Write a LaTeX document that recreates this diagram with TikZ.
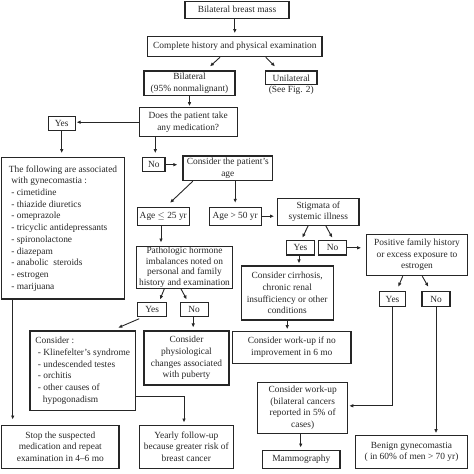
\documentclass[tikz,border=0pt]{standalone}
\usepackage{fontspec}
\setmainfont{Liberation Serif}
\usetikzlibrary{arrows.meta}
\begin{document}
\begin{tikzpicture}[x=1pt,y=-1pt,
  box/.style={draw=black!85, line width=1.1pt, inner sep=0pt, align=center,
    font=\fontsize{9.4}{11.7}\selectfont, text=black!85},
  lbl/.style={inner sep=0pt, align=center, font=\fontsize{9.4}{11.7}\selectfont, text=black!85},
  arr/.style={draw=black!85, line width=0.9pt, -{Latex[length=4pt,width=3.6pt]}},
  ln/.style={draw=black!85, line width=0.9pt}
]
\useasboundingbox (0,0) rectangle (474,474);

% nodes
\node[box, minimum width=104, minimum height=17.3] (top) at (237,9.7) {Bilateral breast mass};
\node[box, minimum width=174.3, minimum height=20] (hist) at (234.8,46.7) {Complete history and physical examination};
\node[box, minimum width=91, minimum height=24.7] (bil) at (189.5,83.3) {Bilateral\\(95\% nonmalignant)};
\node[box, minimum width=51.3, minimum height=13.7] (uni) at (291.3,77.8) {Unilateral};
\node[lbl] (seefig) at (291.3,90.5) {(See Fig. 2)};
\node[box, minimum width=98.3, minimum height=29] (med) at (188.2,122.2) {Does the patient take\\any medication?};
\node[box, minimum width=26.7, minimum height=14] (yes1) at (61.7,123.7) {Yes};
\node[box, minimum width=123.4, minimum height=141.3, align=left] (list) at (63,228.3)
  {The following are associated\\
   \hspace*{2.5pt}with gynecomastia :\\
   \hspace*{2.5pt}- cimetidine\\
   \hspace*{2.5pt}- thiazide diuretics\\
   \hspace*{2.5pt}- omeprazole\\
   \hspace*{2.5pt}- tricyclic antidepressants\\
   \hspace*{2.5pt}- spironolactone\\
   \hspace*{2.5pt}- diazepam\\
   \hspace*{2.5pt}- anabolic\ \ steroids\\
   \hspace*{2.5pt}- estrogen\\
   \hspace*{2.5pt}- marijuana};
\node[box, minimum width=22.3, minimum height=14] (no1) at (153.8,164.7) {No};
\node[box, minimum width=89.7, minimum height=24.7] (age) at (227.8,168.3) {Consider the patient's\\age};
\node[box, minimum width=52, minimum height=17.7] (age25) at (163.3,216.2) {Age $\leq$ 25 yr};
\node[box, minimum width=51.7, minimum height=17.7] (age50) at (235.2,216.2) {Age > 50 yr};
\node[box, minimum width=81.3, minimum height=26.7] (stig) at (318.3,211.7) {Stigmata of\\systemic illness};
\node[box, minimum width=27.6, minimum height=14.3] (yes2) at (300.5,247.8) {Yes};
\node[box, minimum width=28.4, minimum height=14.3] (no2) at (332.5,247.8) {No};
\node[box, minimum width=100.6, minimum height=41.4] (fam) at (417,255) {Positive family history\\or excess exposure to\\estrogen};
\node[box, minimum width=26.4, minimum height=15] (yes3) at (392.5,299.2) {Yes};
\node[box, minimum width=28, minimum height=15] (no3) at (436,299.2) {No};
\node[box, minimum width=92.3, minimum height=54] (cirr) at (287.2,293) {Consider cirrhosis,\\chronic renal\\insufficiency or other\\conditions};
\node[box, minimum width=118.3, minimum height=31.6] (wk1) at (291.8,347.5) {Consider work-up if no\\improvement in 6 mo};
\node[box, minimum width=90, minimum height=51] (wk2) at (302.7,407.8) {Consider work-up\\(bilateral cancers\\reported in 5\% of\\cases)};
\node[box, minimum width=77.3, minimum height=18.3] (mammo) at (301.3,459.2) {Mammography};
\node[box, minimum width=111.6, minimum height=32.6] (benign) at (411.5,452) {Benign gynecomastia\\( in 60\% of men > 70 yr)};
\node[box, minimum width=95.6, minimum height=42.3, font=\fontsize{9.4}{10.4}\selectfont] (path) at (184.5,267.2) {Pathologic hormone\\imbalances noted on\\personal and family\\history and examination};
\node[box, minimum width=29, minimum height=14.4] (yes4) at (152.2,309.5) {Yes};
\node[box, minimum width=28.3, minimum height=14.4] (no4) at (194.2,309.5) {No};
\node[box, minimum width=105.7, minimum height=79.7, align=left] (kline) at (82.8,370.8)
  {Consider :\\
   \hspace*{2.5pt}- Klinefelter's syndrome\\
   \hspace*{2.5pt}- undescended testes\\
   \hspace*{2.5pt}- orchitis\\
   \hspace*{2.5pt}- other causes of\\
   \hspace*{7.5pt}hypogonadism};
\node[box, minimum width=85, minimum height=54] (phys) at (186.5,358) {Consider\\physiological\\changes associated\\with puberty};
\node[box, minimum width=94, minimum height=43.3] (yearly) at (186.3,446.7) {Yearly follow-up\\because greater risk of\\breast cancer};
\node[box, minimum width=117.3, minimum height=43.3] (stop) at (60.3,446.7) {Stop the suspected\\medication and repeat\\examination in 4--6 mo};

% connectors
\draw[arr, shorten >=3pt] (top.south -| hist.north) -- (hist.north);
\draw[arr] ([xshift=-14.8pt]hist.south) -- ([xshift=20.5pt,yshift=4pt]bil.north);
\draw[arr] ([xshift=31pt]hist.south) -- ([xshift=-16.3pt,yshift=4pt]uni.north);
\draw[arr, shorten >=1pt] (bil.south) -- (bil.south |- med.north);
\draw[arr, shorten >=1pt] (med.west) -- (med.west -| yes1.east);
\draw[arr, shorten >=4pt] (yes1.south) -- (yes1.south |- list.north);
\draw[arr, shorten >=4pt] ([xshift=1.5pt]no1.north |- med.south) -- ([xshift=1.5pt]no1.north);
\draw[arr, shorten >=5pt] (no1.east) -- (no1.east -| age.west);
\draw[arr] ([xshift=-35pt]age.south) -- ([xshift=6.7pt,yshift=4pt]age25.north);
\draw[arr, shorten >=4pt] (age50.north |- age.south) -- (age50.north);
\draw[arr, shorten >=3pt] (age50.east) -- (age50.east -| stig.west);
\draw[arr] ([xshift=-10pt]stig.south) -- ([xshift=1.8pt,yshift=2.4pt]yes2.north);
\draw[arr] ([xshift=7.4pt]stig.south) -- ([xshift=-0.2pt,yshift=2.4pt]no2.north);
\draw[arr, shorten >=5pt] (no2.east) -- (no2.east -| fam.west);
\draw[arr] ([xshift=-14.3pt]fam.south) -- ([xshift=5.8pt,yshift=4.4pt]yes3.north);
\draw[arr] ([xshift=5.3pt]fam.south) -- ([xshift=-7.7pt,yshift=4.4pt]no3.north);
\draw[arr, shorten >=2pt] ([xshift=-1.5pt]yes2.south) -- ([xshift=-1.5pt]yes2.south |- cirr.north);
\draw[arr, shorten >=2pt] (cirr.south) -- (cirr.south |- wk1.north);
\draw[arr, shorten >=1pt] (yes3.south) |- ([yshift=2pt]wk2.east);
\draw[arr, shorten >=2pt] (no3.south) -- (no3.south |- benign.north);
\draw[arr, shorten >=2pt] ([xshift=-2pt]wk2.south) -- ([xshift=-2pt]wk2.south |- mammo.north);
\draw[arr, shorten >=3pt] ([xshift=-2.3pt]age25.south) -- ([xshift=-2.3pt]age25.south |- path.north);
\draw[arr] ([xshift=-20.2pt]path.south) -- ([xshift=7.8pt,yshift=2.3pt]yes4.north);
\draw[arr] ([xshift=-3.5pt]path.south) -- ([xshift=-7.5pt,yshift=2.3pt]no4.north);
\draw[arr] ([xshift=2pt,yshift=-1.5pt]yes4.south west) -- ([xshift=35.5pt,yshift=2.7pt]kline.north);
\draw[arr, shorten >=3pt] ([xshift=-1pt]no4.south) -- ([xshift=-1pt]no4.south |- phys.north);
\draw[arr, shorten >=2pt] ([yshift=-25.2pt]kline.east) -| ([xshift=-2.3pt]yearly.north);
\draw[arr, shorten >=5pt] ([xshift=-50.3pt]list.south) -- ([xshift=-50.3pt]list.south |- stop.north);
\end{tikzpicture}
\end{document}
